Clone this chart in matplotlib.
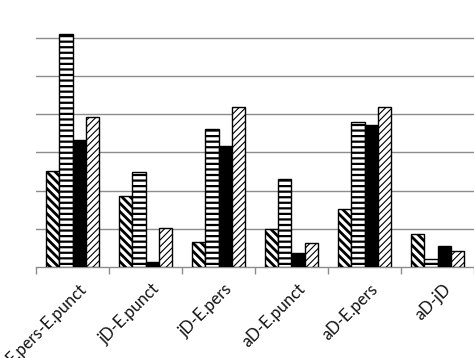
import matplotlib
matplotlib.use("Agg")
import matplotlib.pyplot as plt
import numpy as np

categories = ["E.pers-E.punct", "jD-E.punct", "jD-E.pers", "aD-E.punct", "aD-E.pers", "aD-jD"]
series1 = [2.52, 1.86, 0.66, 1.00, 1.51, 0.86]
series2 = [6.10, 2.48, 3.60, 2.30, 3.80, 0.20]
series3 = [3.32, 0.13, 3.18, 0.37, 3.71, 0.54]
series4 = [3.93, 1.01, 4.18, 0.62, 4.18, 0.42]
grid_values = [1, 2, 3, 4, 5, 6]

fig = plt.figure(figsize=(4.74, 3.58), dpi=100)
ax = fig.add_axes([36/474, 1 - 267/358, 1 - 36/474, 6.25*38.2/358])

x = np.arange(len(categories))
w = 0.182
offs = [-1.5, -0.5, 0.5, 1.5]
styles = [
    dict(color="white", hatch="\\\\\\\\", hlw=2.0),
    dict(color="white", hatch="---", hlw=1.6),
    dict(color="black", hatch=None, hlw=1.0),
    dict(color="white", hatch="/////", hlw=0.8),
]
for vals, off, st in zip([series1, series2, series3, series4], offs, styles):
    with plt.rc_context({"hatch.linewidth": st["hlw"], "hatch.color": "black"}):
        ax.bar(x + off*w, vals, width=w, color=st["color"], edgecolor="black",
               linewidth=1.0, hatch=st["hatch"], zorder=3)

ax.set_xlim(-0.5, len(categories) - 0.5)
ax.set_ylim(0, 6.25)
ax.set_yticks(grid_values)
ax.yaxis.grid(True, color="#8c8c8c", linewidth=1.0, zorder=0)
ax.tick_params(axis="y", length=0, labelleft=False)
for s in ["left", "right", "top"]:
    ax.spines[s].set_visible(False)
ax.spines["bottom"].set_color("#8c8c8c")
ax.spines["bottom"].set_linewidth(1.0)

ax.set_xticks(np.arange(len(categories) + 1) - 0.5)
ax.set_xticklabels([])
ax.tick_params(axis="x", length=5, color="#8c8c8c", width=1.0, direction="out")
for xi, lab in zip(x, categories):
    ax.annotate(lab, xy=(xi, 0), xycoords=("data", "axes fraction"),
                xytext=(4, -10), textcoords="offset points",
                rotation=45, ha="right", va="top", rotation_mode="anchor",
                fontsize=12, family=["Lato", "DejaVu Sans"], color="#111111",
                annotation_clip=False)

fig.savefig("out.png", dpi=100)
